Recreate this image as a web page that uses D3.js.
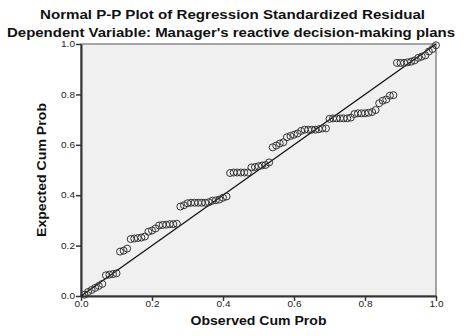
<!DOCTYPE html>
<html>
<head>
<meta charset="utf-8">
<script src="https://cdn.jsdelivr.net/npm/d3@7"></script>
<style>
  html, body { margin: 0; padding: 0; background: #fff; }
  svg { display: block; }
  text { font-family: "Liberation Sans", Arial, sans-serif; }
</style>
</head>
<body>
<svg id="chart" width="474" height="336"></svg>
<script>
// Sorted standardized residuals: expected cumulative probability per case
const expectedCumProb = [
  0.005, 0.016, 0.024, 0.032, 0.040, 0.048, 0.082, 0.085, 0.087, 0.090,
  0.176, 0.180, 0.188, 0.226, 0.228, 0.230, 0.232, 0.236, 0.255, 0.260,
  0.268, 0.280, 0.282, 0.283, 0.285, 0.285, 0.287, 0.355, 0.360, 0.368,
  0.370, 0.370, 0.370, 0.370, 0.370, 0.372, 0.378, 0.380, 0.383, 0.390,
  0.395, 0.488, 0.490, 0.490, 0.490, 0.490, 0.490, 0.510, 0.512, 0.515,
  0.518, 0.520, 0.530, 0.590, 0.597, 0.605, 0.610, 0.630, 0.635, 0.640,
  0.645, 0.655, 0.660, 0.660, 0.660, 0.660, 0.662, 0.665, 0.665, 0.703,
  0.705, 0.705, 0.705, 0.705, 0.705, 0.708, 0.722, 0.725, 0.725, 0.725,
  0.727, 0.730, 0.738, 0.765, 0.775, 0.780, 0.795, 0.797, 0.925, 0.925,
  0.925, 0.927, 0.930, 0.935, 0.945, 0.950, 0.955, 0.970, 0.980, 0.995
];
// Observed cumulative probability: rank / n
const observedCumProb = expectedCumProb.map((_, i) => (i + 1) / expectedCumProb.length);
const tickValues = [0.0, 0.2, 0.4, 0.6, 0.8, 1.0];

const titleLines = [
  "Normal P-P Plot of Regression Standardized Residual",
  "Dependent Variable: Manager's reactive decision-making plans"
];
const xTitle = "Observed Cum Prob";
const yTitle = "Expected Cum Prob";

const svg = d3.select("#chart");
const x = d3.scaleLinear().domain([0, 1]).range([81, 436]);
const y = d3.scaleLinear().domain([0, 1]).range([296, 44]);

// plot background with frame
svg.append("rect")
  .attr("x", x(0)).attr("y", y(1))
  .attr("width", x(1) - x(0)).attr("height", y(0) - y(1))
  .attr("fill", "#f0f0f0")
  .attr("stroke", "#8a8a8a").attr("stroke-width", 1.5);

// titles, stretched to the width of the printed heading
const titleLayout = [
  { cx: 232.5, base: 19, len: 385 },
  { cx: 231, base: 36.5, len: 448 }
];
svg.selectAll("text.title").data(titleLines).enter().append("text")
  .attr("class", "title")
  .attr("x", (d, i) => titleLayout[i].cx)
  .attr("y", (d, i) => titleLayout[i].base)
  .attr("text-anchor", "middle")
  .attr("textLength", (d, i) => titleLayout[i].len)
  .attr("lengthAdjust", "spacingAndGlyphs")
  .attr("font-size", 13).attr("font-weight", "bold")
  .attr("fill", "#111")
  .text(d => d);

// axes
const fmt = d3.format(".1f");
const xAxis = svg.append("g").attr("transform", `translate(0,${y(0)})`)
  .call(d3.axisBottom(x).tickValues(tickValues).tickFormat(fmt).tickSize(5).tickSizeOuter(0));
const yAxis = svg.append("g").attr("transform", `translate(${x(0)},0)`)
  .call(d3.axisLeft(y).tickValues(tickValues).tickFormat(fmt).tickSize(5).tickSizeOuter(0));
[xAxis, yAxis].forEach(g => {
  g.select(".domain").attr("stroke", "#333").attr("stroke-width", 2);
  g.selectAll(".tick line").attr("stroke", "#333").attr("stroke-width", 1.5);
  g.selectAll(".tick text").attr("font-size", 8.5).attr("fill", "#222")
    .attr("font-family", "'Liberation Sans', Arial, sans-serif");
});
xAxis.selectAll(".tick text").attr("y", 5).attr("dy", "0.71em").attr("textLength", 14)
  .attr("lengthAdjust", "spacingAndGlyphs");
yAxis.selectAll(".tick text").attr("x", -6).attr("textLength", 14)
  .attr("lengthAdjust", "spacingAndGlyphs");

// axis titles
svg.append("text")
  .attr("x", 258.5).attr("y", 325)
  .attr("text-anchor", "middle")
  .attr("textLength", 136).attr("lengthAdjust", "spacingAndGlyphs")
  .attr("font-size", 12.5).attr("font-weight", "bold").attr("fill", "#111")
  .text(xTitle);
svg.append("text")
  .attr("transform", `translate(46,${(y(0) + y(1)) / 2}) rotate(-90)`)
  .attr("text-anchor", "middle")
  .attr("textLength", 134).attr("lengthAdjust", "spacingAndGlyphs")
  .attr("font-size", 12).attr("font-weight", "bold").attr("fill", "#111")
  .text(yTitle);

// reference diagonal
svg.append("line")
  .attr("x1", x(0)).attr("y1", y(0))
  .attr("x2", x(1)).attr("y2", y(1))
  .attr("stroke", "#111").attr("stroke-width", 1.3);

// observed points
svg.append("g").selectAll("circle")
  .data(expectedCumProb.map((e, i) => [observedCumProb[i], e]))
  .enter().append("circle")
  .attr("cx", d => x(d[0])).attr("cy", d => y(d[1]))
  .attr("r", 3.5)
  .attr("fill", "none")
  .attr("stroke", "#333").attr("stroke-width", 1);
</script>
</body>
</html>
